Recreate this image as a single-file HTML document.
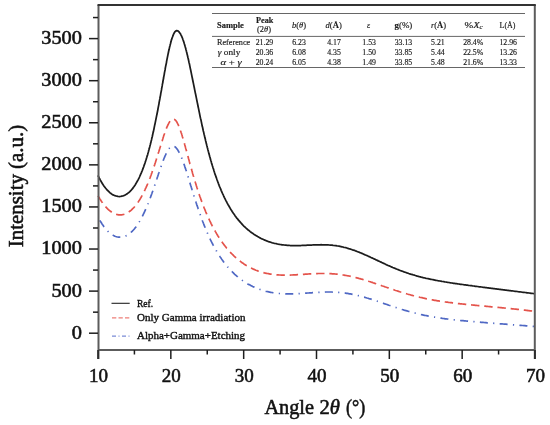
<!DOCTYPE html>
<html><head><meta charset="utf-8">
<style>
html,body{margin:0;padding:0;background:#fff;}
body{width:550px;height:425px;overflow:hidden;}
svg{display:block;}
.ser{font-family:"Liberation Serif",serif;}
</style></head>
<body>
<svg width="550" height="425" viewBox="0 0 550 425">
<rect width="550" height="425" fill="#fff"/>
<g fill="none" stroke-linejoin="round">
<path d="M98.0,217.0 98.5,217.9 98.9,218.7 99.4,219.6 99.9,220.5 100.4,221.3 101.0,222.2 101.5,223.0 102.0,223.9 102.6,224.7 103.2,225.5 103.7,226.4 104.3,227.2 105.0,227.9 105.6,228.7 106.2,229.5 106.9,230.2 107.6,230.9 108.3,231.7 109.0,232.3 109.8,233.0 110.6,233.6 111.4,234.2 112.2,234.8 113.1,235.3 114.0,235.7 114.9,236.2 115.8,236.5 116.8,236.8 117.7,237.0 118.7,237.2 119.7,237.2 120.7,237.2 121.7,237.1 122.7,237.0 123.7,236.7 124.6,236.4 125.6,236.0 126.5,235.6 127.3,235.1 128.2,234.6 129.0,234.0 129.8,233.4 130.6,232.8 131.3,232.1 132.1,231.4 132.7,230.7 133.4,230.0 134.1,229.2 134.7,228.4 135.3,227.7 136.0,226.9 136.5,226.0 137.1,225.2 137.7,224.4 138.2,223.6 138.8,222.7 139.3,221.9 139.8,221.0 140.3,220.1 140.8,219.3 141.3,218.4 141.7,217.5 142.2,216.6 142.7,215.7 143.1,214.8 143.5,213.9 144.0,213.0 144.4,212.1 144.8,211.2 145.2,210.3 145.6,209.4 146.0,208.5 146.4,207.5 146.8,206.6 147.2,205.7 147.6,204.8 148.0,203.8 148.3,202.9 148.7,202.0 149.1,201.0 149.4,200.1 149.8,199.2 150.1,198.2 150.5,197.3 150.8,196.4 151.2,195.4 151.5,194.5 151.9,193.5 152.2,192.6 152.5,191.7 152.9,190.7 153.2,189.8 153.5,188.8 153.8,187.9 154.2,186.9 154.5,186.0 154.8,185.0 155.1,184.1 155.4,183.1 155.8,182.2 156.1,181.2 156.4,180.3 156.7,179.3 157.0,178.4 157.3,177.4 157.7,176.5 158.0,175.5 158.3,174.6 158.6,173.6 158.9,172.7 159.2,171.7 159.6,170.8 159.9,169.8 160.2,168.9 160.5,167.9 160.9,167.0 161.2,166.0 161.5,165.1 161.9,164.2 162.2,163.2 162.6,162.3 162.9,161.3 163.3,160.4 163.6,159.5 164.0,158.5 164.4,157.6 164.8,156.7 165.1,155.8 165.6,154.9 166.0,154.0 166.4,153.1 166.9,152.2 167.4,151.3 167.9,150.4 168.4,149.6 169.0,148.8 169.6,148.0 170.3,147.3 171.1,146.7 172.0,146.3 173.0,146.2 174.0,146.4 174.9,146.8 175.7,147.4 176.4,148.2 177.0,148.9 177.6,149.7 178.1,150.6 178.6,151.5 179.1,152.3 179.6,153.2 180.0,154.1 180.4,155.0 180.8,156.0 181.2,156.9 181.6,157.8 182.0,158.7 182.3,159.7 182.7,160.6 183.0,161.5 183.4,162.5 183.7,163.4 184.1,164.4 184.4,165.3 184.7,166.3 185.0,167.2 185.3,168.2 185.7,169.1 186.0,170.1 186.3,171.0 186.6,172.0 186.9,172.9 187.2,173.9 187.5,174.8 187.8,175.8 188.1,176.7 188.4,177.7 188.7,178.7 189.0,179.6 189.3,180.6 189.6,181.5 189.8,182.5 190.1,183.4 190.4,184.4 190.7,185.4 191.0,186.3 191.3,187.3 191.6,188.2 191.9,189.2 192.2,190.1 192.5,191.1 192.8,192.1 193.1,193.0 193.4,194.0 193.7,194.9 194.0,195.9 194.3,196.8 194.6,197.8 194.9,198.7 195.2,199.7 195.5,200.6 195.8,201.6 196.1,202.6 196.4,203.5 196.7,204.5 197.0,205.4 197.4,206.4 197.7,207.3 198.0,208.3 198.3,209.2 198.6,210.2 199.0,211.1 199.3,212.0 199.6,213.0 199.9,213.9 200.3,214.9 200.6,215.8 201.0,216.8 201.3,217.7 201.6,218.6 202.0,219.6 202.3,220.5 202.7,221.5 203.1,222.4 203.4,223.3 203.8,224.3 204.1,225.2 204.5,226.1 204.9,227.0 205.3,228.0 205.6,228.9 206.0,229.8 206.4,230.7 206.8,231.7 207.2,232.6 207.6,233.5 208.0,234.4 208.4,235.3 208.8,236.2 209.3,237.2 209.7,238.1 210.1,239.0 210.5,239.9 211.0,240.8 211.4,241.7 211.9,242.6 212.3,243.5 212.8,244.3 213.2,245.2 213.7,246.1 214.2,247.0 214.7,247.9 215.2,248.8 215.7,249.6 216.2,250.5 216.7,251.4 217.2,252.2 217.7,253.1 218.2,253.9 218.7,254.8 219.3,255.6 219.8,256.4 220.4,257.3 221.0,258.1 221.5,258.9 222.1,259.8 222.7,260.6 223.3,261.4 223.9,262.2 224.5,263.0 225.1,263.8 225.7,264.6 226.3,265.3 227.0,266.1 227.6,266.9 228.3,267.6 228.9,268.4 229.6,269.1 230.3,269.9 231.0,270.6 231.7,271.3 232.4,272.0 233.1,272.7 233.8,273.4 234.5,274.1 235.3,274.8 236.0,275.4 236.8,276.1 237.6,276.7 238.3,277.4 239.1,278.0 239.9,278.6 240.7,279.2 241.5,279.8 242.3,280.4 243.1,281.0 244.0,281.5 244.8,282.1 245.6,282.6 246.5,283.1 247.4,283.7 248.2,284.2 249.1,284.6 250.0,285.1 250.9,285.6 251.8,286.0 252.7,286.5 253.6,286.9 254.5,287.3 255.4,287.7 256.3,288.1 257.2,288.5 258.2,288.8 259.1,289.2 260.1,289.5 261.0,289.8 262.0,290.1 262.9,290.4 263.9,290.7 264.8,291.0 265.8,291.3 266.8,291.5 267.8,291.7 268.7,291.9 269.7,292.1 270.7,292.3 271.7,292.5 272.7,292.7 273.7,292.8 274.6,293.0 275.6,293.1 276.6,293.2 277.6,293.4 278.6,293.5 279.6,293.5 280.6,293.6 281.6,293.7 282.6,293.8 283.6,293.8 284.6,293.8 285.6,293.9 286.6,293.9 287.6,293.9 288.6,293.9 289.6,293.9 290.6,293.9 291.6,293.9 292.6,293.9 293.6,293.9 294.6,293.8 295.6,293.8 296.6,293.7 297.6,293.7 298.6,293.6 299.6,293.6 300.6,293.5 301.6,293.5 302.6,293.4 303.6,293.3 304.6,293.3 305.6,293.2 306.6,293.1 307.6,293.0 308.6,293.0 309.6,292.9 310.6,292.8 311.6,292.8 312.6,292.7 313.6,292.6 314.6,292.5 315.6,292.5 316.6,292.4 317.6,292.4 318.6,292.3 319.6,292.3 320.6,292.2 321.6,292.2 322.6,292.1 323.6,292.1 324.6,292.1 325.6,292.0 326.6,292.0 327.6,292.0 328.6,292.0 329.6,292.0 330.6,292.0 331.6,292.0 332.6,292.1 333.6,292.1 334.6,292.1 335.6,292.2 336.6,292.3 337.6,292.3 338.6,292.4 339.6,292.5 340.6,292.6 341.6,292.7 342.6,292.8 343.6,292.9 344.6,293.0 345.6,293.1 346.6,293.3 347.6,293.4 348.5,293.6 349.5,293.8 350.5,293.9 351.5,294.1 352.5,294.3 353.5,294.5 354.4,294.7 355.4,294.9 356.4,295.2 357.4,295.4 358.3,295.6 359.3,295.8 360.3,296.1 361.3,296.3 362.2,296.6 363.2,296.9 364.2,297.1 365.1,297.4 366.1,297.7 367.0,298.0 368.0,298.3 369.0,298.6 369.9,298.8 370.9,299.1 371.8,299.4 372.8,299.8 373.7,300.1 374.7,300.4 375.6,300.7 376.6,301.0 377.5,301.3 378.5,301.6 379.4,302.0 380.4,302.3 381.3,302.6 382.3,302.9 383.2,303.2 384.2,303.6 385.1,303.9 386.1,304.2 387.0,304.5 388.0,304.9 388.9,305.2 389.9,305.5 390.8,305.8 391.8,306.1 392.7,306.5 393.6,306.8 394.6,307.1 395.6,307.4 396.5,307.7 397.5,308.0 398.4,308.3 399.4,308.6 400.3,308.9 401.3,309.2 402.2,309.5 403.2,309.8 404.1,310.1 405.1,310.4 406.1,310.7 407.0,310.9 408.0,311.2 409.0,311.5 409.9,311.8 410.9,312.0 411.9,312.3 412.8,312.5 413.8,312.8 414.8,313.0 415.7,313.3 416.7,313.5 417.7,313.8 418.7,314.0 419.6,314.2 420.6,314.4 421.6,314.7 422.6,314.9 423.5,315.1 424.5,315.3 425.5,315.5 426.5,315.7 427.5,315.9 428.4,316.1 429.4,316.3 430.4,316.4 431.4,316.6 432.4,316.8 433.4,317.0 434.4,317.1 435.3,317.3 436.3,317.5 437.3,317.6 438.3,317.8 439.3,317.9 440.3,318.1 441.3,318.2 442.3,318.4 443.3,318.5 444.3,318.6 445.2,318.8 446.2,318.9 447.2,319.0 448.2,319.1 449.2,319.3 450.2,319.4 451.2,319.5 452.2,319.6 453.2,319.7 454.2,319.8 455.2,319.9 456.2,320.0 457.2,320.2 458.2,320.3 459.2,320.4 460.2,320.5 461.2,320.6 462.2,320.6 463.2,320.7 464.2,320.8 465.1,320.9 466.1,321.0 467.1,321.1 468.1,321.2 469.1,321.3 470.1,321.4 471.1,321.5 472.1,321.5 473.1,321.6 474.1,321.7 475.1,321.8 476.1,321.9 477.1,322.0 478.1,322.0 479.1,322.1 480.1,322.2 481.1,322.3 482.1,322.4 483.1,322.4 484.1,322.5 485.1,322.6 486.1,322.7 487.1,322.8 488.1,322.8 489.1,322.9 490.1,323.0 491.1,323.1 492.1,323.1 493.1,323.2 494.1,323.3 495.1,323.4 496.1,323.4 497.1,323.5 498.1,323.6 499.1,323.7 500.1,323.8 501.1,323.8 502.1,323.9 503.1,324.0 504.1,324.1 505.1,324.1 506.1,324.2 507.1,324.3 508.1,324.4 509.1,324.4 510.1,324.5 511.1,324.6 512.0,324.7 513.0,324.8 514.0,324.8 515.0,324.9 516.0,325.0 517.0,325.1 518.0,325.1 519.0,325.2 520.0,325.3 521.0,325.4 522.0,325.5 523.0,325.5 524.0,325.6 525.0,325.7 526.0,325.8 527.0,325.9 528.0,326.0 529.0,326.0 530.0,326.1 531.0,326.2 532.0,326.3 533.0,326.4 534.0,326.4 535.0,326.5" stroke="#4f68c4" stroke-width="1.7" stroke-dasharray="8 5.325 1.2 5.325" stroke-dashoffset="16.1"/>
<path d="M98.0,195.7 98.5,196.6 99.0,197.4 99.5,198.3 100.0,199.1 100.6,200.0 101.1,200.8 101.7,201.7 102.3,202.5 102.8,203.3 103.4,204.1 104.1,204.9 104.7,205.7 105.3,206.4 106.0,207.2 106.7,207.9 107.4,208.6 108.1,209.3 108.8,210.0 109.6,210.6 110.4,211.2 111.2,211.8 112.0,212.4 112.9,212.9 113.8,213.3 114.7,213.8 115.6,214.1 116.6,214.4 117.6,214.6 118.6,214.8 119.5,214.9 120.5,214.9 121.5,214.8 122.5,214.7 123.5,214.5 124.5,214.2 125.4,213.8 126.3,213.4 127.2,213.0 128.1,212.5 128.9,211.9 129.7,211.3 130.5,210.7 131.3,210.1 132.0,209.4 132.7,208.7 133.4,208.0 134.1,207.3 134.8,206.5 135.4,205.7 136.0,205.0 136.6,204.2 137.2,203.3 137.8,202.5 138.4,201.7 138.9,200.9 139.5,200.0 140.0,199.2 140.5,198.3 141.0,197.5 141.5,196.6 142.0,195.7 142.4,194.8 142.9,193.9 143.4,193.1 143.8,192.2 144.3,191.3 144.7,190.4 145.1,189.5 145.5,188.5 146.0,187.6 146.4,186.7 146.8,185.8 147.2,184.9 147.6,184.0 147.9,183.0 148.3,182.1 148.7,181.2 149.1,180.3 149.4,179.3 149.8,178.4 150.2,177.5 150.5,176.5 150.9,175.6 151.2,174.7 151.5,173.7 151.9,172.8 152.2,171.8 152.5,170.9 152.9,169.9 153.2,169.0 153.5,168.0 153.8,167.1 154.2,166.2 154.5,165.2 154.8,164.3 155.1,163.3 155.4,162.4 155.7,161.4 156.0,160.4 156.3,159.5 156.6,158.5 156.9,157.6 157.2,156.6 157.5,155.7 157.8,154.7 158.1,153.8 158.4,152.8 158.7,151.9 159.0,150.9 159.3,149.9 159.6,149.0 159.9,148.0 160.2,147.1 160.5,146.1 160.8,145.2 161.1,144.2 161.4,143.3 161.7,142.3 162.0,141.3 162.3,140.4 162.6,139.4 162.9,138.5 163.2,137.5 163.5,136.6 163.8,135.6 164.1,134.7 164.5,133.7 164.8,132.8 165.1,131.9 165.5,130.9 165.8,130.0 166.2,129.0 166.5,128.1 166.9,127.2 167.3,126.3 167.7,125.4 168.2,124.5 168.6,123.6 169.1,122.7 169.6,121.8 170.2,121.0 170.9,120.3 171.6,119.6 172.5,119.1 173.5,119.1 174.4,119.4 175.2,120.0 175.9,120.7 176.5,121.5 177.0,122.4 177.5,123.3 177.9,124.2 178.4,125.1 178.7,126.0 179.1,126.9 179.5,127.8 179.8,128.8 180.2,129.7 180.5,130.7 180.8,131.6 181.1,132.6 181.5,133.5 181.8,134.5 182.1,135.4 182.3,136.4 182.6,137.3 182.9,138.3 183.2,139.3 183.5,140.2 183.8,141.2 184.0,142.1 184.3,143.1 184.6,144.1 184.8,145.0 185.1,146.0 185.4,147.0 185.6,147.9 185.9,148.9 186.2,149.8 186.4,150.8 186.7,151.8 187.0,152.7 187.2,153.7 187.5,154.7 187.7,155.6 188.0,156.6 188.3,157.6 188.5,158.5 188.8,159.5 189.1,160.5 189.3,161.4 189.6,162.4 189.8,163.4 190.1,164.3 190.4,165.3 190.6,166.3 190.9,167.2 191.2,168.2 191.5,169.1 191.7,170.1 192.0,171.1 192.3,172.0 192.5,173.0 192.8,174.0 193.1,174.9 193.4,175.9 193.7,176.8 193.9,177.8 194.2,178.8 194.5,179.7 194.8,180.7 195.1,181.6 195.4,182.6 195.7,183.5 196.0,184.5 196.3,185.5 196.6,186.4 196.9,187.4 197.2,188.3 197.5,189.3 197.8,190.2 198.1,191.2 198.4,192.1 198.7,193.1 199.1,194.0 199.4,195.0 199.7,195.9 200.0,196.8 200.4,197.8 200.7,198.7 201.0,199.7 201.4,200.6 201.7,201.6 202.1,202.5 202.4,203.4 202.8,204.4 203.1,205.3 203.5,206.2 203.9,207.2 204.2,208.1 204.6,209.0 205.0,209.9 205.4,210.9 205.7,211.8 206.1,212.7 206.5,213.6 206.9,214.6 207.3,215.5 207.7,216.4 208.1,217.3 208.6,218.2 209.0,219.1 209.4,220.0 209.8,220.9 210.3,221.8 210.7,222.7 211.1,223.6 211.6,224.5 212.0,225.4 212.5,226.3 213.0,227.2 213.4,228.1 213.9,229.0 214.4,229.8 214.9,230.7 215.4,231.6 215.9,232.4 216.4,233.3 216.9,234.2 217.4,235.0 217.9,235.9 218.5,236.7 219.0,237.6 219.5,238.4 220.1,239.2 220.6,240.1 221.2,240.9 221.8,241.7 222.4,242.5 222.9,243.3 223.5,244.1 224.1,244.9 224.8,245.7 225.4,246.5 226.0,247.3 226.6,248.1 227.3,248.9 227.9,249.6 228.6,250.4 229.2,251.1 229.9,251.9 230.6,252.6 231.3,253.3 232.0,254.0 232.7,254.7 233.4,255.4 234.1,256.1 234.9,256.8 235.6,257.5 236.3,258.1 237.1,258.8 237.9,259.4 238.6,260.1 239.4,260.7 240.2,261.3 241.0,261.9 241.8,262.5 242.6,263.1 243.5,263.6 244.3,264.2 245.1,264.7 246.0,265.3 246.9,265.8 247.7,266.3 248.6,266.8 249.5,267.2 250.4,267.7 251.3,268.1 252.2,268.6 253.1,269.0 254.0,269.4 254.9,269.8 255.8,270.2 256.8,270.5 257.7,270.9 258.6,271.2 259.6,271.5 260.5,271.8 261.5,272.1 262.5,272.4 263.4,272.6 264.4,272.9 265.4,273.1 266.4,273.3 267.3,273.5 268.3,273.7 269.3,273.9 270.3,274.1 271.3,274.2 272.3,274.3 273.3,274.5 274.3,274.6 275.2,274.7 276.2,274.8 277.2,274.9 278.2,274.9 279.2,275.0 280.2,275.0 281.2,275.1 282.2,275.1 283.2,275.1 284.2,275.1 285.2,275.1 286.2,275.1 287.2,275.1 288.2,275.1 289.2,275.1 290.2,275.1 291.2,275.0 292.2,275.0 293.2,274.9 294.2,274.9 295.2,274.8 296.2,274.8 297.2,274.7 298.2,274.7 299.2,274.6 300.2,274.5 301.2,274.5 302.2,274.4 303.2,274.3 304.2,274.3 305.2,274.2 306.2,274.1 307.2,274.1 308.2,274.0 309.2,273.9 310.2,273.9 311.2,273.8 312.2,273.8 313.2,273.7 314.2,273.7 315.2,273.6 316.2,273.6 317.2,273.6 318.2,273.5 319.2,273.5 320.2,273.5 321.2,273.5 322.2,273.5 323.2,273.5 324.2,273.5 325.2,273.5 326.2,273.5 327.2,273.5 328.2,273.6 329.2,273.6 330.2,273.6 331.2,273.7 332.2,273.8 333.2,273.8 334.2,273.9 335.2,274.0 336.2,274.1 337.2,274.2 338.2,274.3 339.2,274.4 340.2,274.5 341.2,274.7 342.1,274.8 343.1,275.0 344.1,275.1 345.1,275.3 346.1,275.5 347.1,275.7 348.1,275.8 349.0,276.0 350.0,276.2 351.0,276.5 352.0,276.7 352.9,276.9 353.9,277.1 354.9,277.4 355.9,277.6 356.8,277.8 357.8,278.1 358.8,278.4 359.7,278.6 360.7,278.9 361.7,279.2 362.6,279.4 363.6,279.7 364.5,280.0 365.5,280.3 366.4,280.6 367.4,280.9 368.4,281.2 369.3,281.5 370.3,281.8 371.2,282.1 372.2,282.4 373.1,282.8 374.1,283.1 375.0,283.4 376.0,283.7 376.9,284.0 377.9,284.4 378.8,284.7 379.7,285.0 380.7,285.3 381.6,285.7 382.6,286.0 383.5,286.3 384.5,286.6 385.4,287.0 386.4,287.3 387.3,287.6 388.3,287.9 389.2,288.2 390.2,288.6 391.1,288.9 392.0,289.2 393.0,289.5 393.9,289.8 394.9,290.2 395.8,290.5 396.8,290.8 397.8,291.1 398.7,291.4 399.7,291.7 400.6,292.0 401.6,292.3 402.5,292.6 403.5,292.9 404.4,293.2 405.4,293.4 406.4,293.7 407.3,294.0 408.3,294.3 409.2,294.5 410.2,294.8 411.2,295.1 412.1,295.3 413.1,295.6 414.1,295.8 415.0,296.1 416.0,296.3 417.0,296.6 418.0,296.8 418.9,297.0 419.9,297.3 420.9,297.5 421.9,297.7 422.8,297.9 423.8,298.2 424.8,298.4 425.8,298.6 426.7,298.8 427.7,299.0 428.7,299.2 429.7,299.4 430.7,299.5 431.6,299.7 432.6,299.9 433.6,300.1 434.6,300.3 435.6,300.4 436.6,300.6 437.6,300.8 438.5,300.9 439.5,301.1 440.5,301.2 441.5,301.4 442.5,301.5 443.5,301.7 444.5,301.8 445.5,302.0 446.5,302.1 447.5,302.2 448.4,302.4 449.4,302.5 450.4,302.6 451.4,302.7 452.4,302.9 453.4,303.0 454.4,303.1 455.4,303.2 456.4,303.3 457.4,303.5 458.4,303.6 459.4,303.7 460.4,303.8 461.4,303.9 462.4,304.0 463.4,304.1 464.3,304.2 465.3,304.3 466.3,304.4 467.3,304.5 468.3,304.6 469.3,304.7 470.3,304.8 471.3,304.9 472.3,305.0 473.3,305.1 474.3,305.2 475.3,305.3 476.3,305.4 477.3,305.5 478.3,305.6 479.3,305.7 480.3,305.7 481.3,305.8 482.3,305.9 483.3,306.0 484.3,306.1 485.3,306.2 486.3,306.3 487.2,306.4 488.2,306.5 489.2,306.6 490.2,306.7 491.2,306.8 492.2,306.9 493.2,306.9 494.2,307.0 495.2,307.1 496.2,307.2 497.2,307.3 498.2,307.4 499.2,307.5 500.2,307.6 501.2,307.7 502.2,307.8 503.2,307.9 504.2,308.0 505.2,308.1 506.2,308.2 507.2,308.3 508.2,308.4 509.2,308.5 510.1,308.6 511.1,308.7 512.1,308.8 513.1,308.9 514.1,309.0 515.1,309.1 516.1,309.2 517.1,309.3 518.1,309.4 519.1,309.5 520.1,309.7 521.1,309.8 522.1,309.9 523.1,310.0 524.1,310.1 525.1,310.2 526.1,310.3 527.1,310.4 528.0,310.6 529.0,310.7 530.0,310.8 531.0,310.9 532.0,311.0 533.0,311.1 534.0,311.3 535.0,311.4" stroke="#e4534b" stroke-width="1.7" stroke-dasharray="8.4 4.85" stroke-dashoffset="13.2"/>
<path d="M98.0,175.4 98.4,176.3 98.9,177.2 99.3,178.1 99.8,179.0 100.2,179.9 100.7,180.8 101.2,181.6 101.7,182.5 102.2,183.4 102.8,184.2 103.3,185.0 103.9,185.9 104.5,186.7 105.1,187.5 105.7,188.3 106.3,189.0 107.0,189.8 107.6,190.5 108.4,191.2 109.1,191.9 109.8,192.6 110.6,193.2 111.4,193.8 112.3,194.4 113.1,194.9 114.0,195.3 114.9,195.7 115.9,196.0 116.9,196.2 117.8,196.4 118.8,196.5 119.8,196.5 120.8,196.4 121.8,196.2 122.8,196.0 123.7,195.7 124.7,195.3 125.5,194.8 126.4,194.3 127.2,193.7 128.0,193.1 128.8,192.5 129.6,191.8 130.3,191.1 131.0,190.4 131.6,189.7 132.3,188.9 132.9,188.1 133.5,187.3 134.1,186.5 134.6,185.7 135.2,184.9 135.7,184.0 136.2,183.1 136.7,182.3 137.2,181.4 137.7,180.5 138.2,179.6 138.6,178.8 139.1,177.9 139.5,177.0 139.9,176.0 140.3,175.1 140.7,174.2 141.1,173.3 141.5,172.4 141.9,171.4 142.3,170.5 142.6,169.6 143.0,168.7 143.3,167.7 143.7,166.8 144.0,165.8 144.3,164.9 144.7,163.9 145.0,163.0 145.3,162.0 145.6,161.1 145.9,160.1 146.2,159.2 146.5,158.2 146.8,157.3 147.1,156.3 147.4,155.4 147.7,154.4 147.9,153.4 148.2,152.5 148.5,151.5 148.7,150.5 149.0,149.6 149.3,148.6 149.5,147.6 149.8,146.7 150.0,145.7 150.3,144.7 150.5,143.8 150.8,142.8 151.0,141.8 151.2,140.9 151.5,139.9 151.7,138.9 151.9,137.9 152.2,137.0 152.4,136.0 152.6,135.0 152.8,134.0 153.0,133.1 153.3,132.1 153.5,131.1 153.7,130.1 153.9,129.2 154.1,128.2 154.3,127.2 154.5,126.2 154.7,125.2 154.9,124.3 155.1,123.3 155.3,122.3 155.5,121.3 155.7,120.3 155.9,119.4 156.1,118.4 156.3,117.4 156.5,116.4 156.7,115.4 156.9,114.5 157.1,113.5 157.3,112.5 157.5,111.5 157.7,110.5 157.9,109.5 158.0,108.6 158.2,107.6 158.4,106.6 158.6,105.6 158.8,104.6 159.0,103.6 159.1,102.7 159.3,101.7 159.5,100.7 159.7,99.7 159.9,98.7 160.0,97.7 160.2,96.8 160.4,95.8 160.6,94.8 160.7,93.8 160.9,92.8 161.1,91.8 161.3,90.8 161.5,89.9 161.6,88.9 161.8,87.9 162.0,86.9 162.2,85.9 162.3,84.9 162.5,83.9 162.7,83.0 162.9,82.0 163.0,81.0 163.2,80.0 163.4,79.0 163.6,78.0 163.7,77.1 163.9,76.1 164.1,75.1 164.3,74.1 164.4,73.1 164.6,72.1 164.8,71.1 165.0,70.2 165.2,69.2 165.3,68.2 165.5,67.2 165.7,66.2 165.9,65.2 166.1,64.3 166.3,63.3 166.5,62.3 166.6,61.3 166.8,60.3 167.0,59.4 167.2,58.4 167.4,57.4 167.6,56.4 167.8,55.4 168.0,54.4 168.2,53.5 168.4,52.5 168.6,51.5 168.8,50.5 169.1,49.6 169.3,48.6 169.5,47.6 169.7,46.6 170.0,45.7 170.2,44.7 170.5,43.7 170.7,42.8 171.0,41.8 171.2,40.8 171.5,39.9 171.8,38.9 172.1,38.0 172.5,37.0 172.8,36.1 173.2,35.1 173.6,34.2 174.0,33.3 174.5,32.5 175.1,31.6 175.8,31.0 176.7,30.6 177.7,30.8 178.5,31.4 179.2,32.1 179.8,32.9 180.4,33.7 180.8,34.6 181.3,35.5 181.7,36.4 182.1,37.3 182.5,38.3 182.8,39.2 183.2,40.2 183.5,41.1 183.8,42.0 184.1,43.0 184.4,44.0 184.7,44.9 185.0,45.9 185.2,46.8 185.5,47.8 185.8,48.8 186.0,49.7 186.3,50.7 186.5,51.7 186.8,52.6 187.0,53.6 187.2,54.6 187.5,55.6 187.7,56.5 187.9,57.5 188.2,58.5 188.4,59.5 188.6,60.4 188.8,61.4 189.0,62.4 189.3,63.4 189.5,64.3 189.7,65.3 189.9,66.3 190.1,67.3 190.3,68.3 190.5,69.2 190.7,70.2 190.9,71.2 191.1,72.2 191.3,73.1 191.5,74.1 191.7,75.1 191.9,76.1 192.1,77.1 192.3,78.0 192.5,79.0 192.7,80.0 192.9,81.0 193.1,82.0 193.3,82.9 193.5,83.9 193.7,84.9 193.9,85.9 194.1,86.9 194.3,87.8 194.5,88.8 194.7,89.8 194.9,90.8 195.1,91.8 195.3,92.8 195.5,93.7 195.7,94.7 195.9,95.7 196.1,96.7 196.3,97.7 196.5,98.6 196.7,99.6 196.9,100.6 197.1,101.6 197.3,102.6 197.5,103.5 197.7,104.5 197.9,105.5 198.1,106.5 198.3,107.5 198.5,108.4 198.7,109.4 198.9,110.4 199.1,111.4 199.3,112.4 199.5,113.3 199.7,114.3 199.9,115.3 200.1,116.3 200.3,117.3 200.5,118.2 200.8,119.2 201.0,120.2 201.2,121.2 201.4,122.1 201.6,123.1 201.8,124.1 202.0,125.1 202.2,126.1 202.5,127.0 202.7,128.0 202.9,129.0 203.1,130.0 203.3,130.9 203.6,131.9 203.8,132.9 204.0,133.9 204.2,134.8 204.5,135.8 204.7,136.8 204.9,137.8 205.2,138.7 205.4,139.7 205.6,140.7 205.9,141.6 206.1,142.6 206.3,143.6 206.6,144.6 206.8,145.5 207.1,146.5 207.3,147.5 207.6,148.4 207.8,149.4 208.1,150.4 208.3,151.3 208.6,152.3 208.8,153.3 209.1,154.2 209.4,155.2 209.6,156.2 209.9,157.1 210.2,158.1 210.4,159.1 210.7,160.0 211.0,161.0 211.3,161.9 211.5,162.9 211.8,163.9 212.1,164.8 212.4,165.8 212.7,166.7 213.0,167.7 213.3,168.6 213.6,169.6 213.9,170.6 214.2,171.5 214.5,172.5 214.8,173.4 215.1,174.4 215.5,175.3 215.8,176.2 216.1,177.2 216.5,178.1 216.8,179.1 217.1,180.0 217.5,181.0 217.8,181.9 218.2,182.8 218.5,183.8 218.9,184.7 219.2,185.6 219.6,186.6 220.0,187.5 220.4,188.4 220.8,189.3 221.1,190.3 221.5,191.2 221.9,192.1 222.3,193.0 222.7,193.9 223.2,194.8 223.6,195.8 224.0,196.7 224.4,197.6 224.9,198.5 225.3,199.4 225.8,200.3 226.2,201.1 226.7,202.0 227.1,202.9 227.6,203.8 228.1,204.7 228.6,205.5 229.1,206.4 229.6,207.3 230.1,208.1 230.6,209.0 231.1,209.8 231.7,210.7 232.2,211.5 232.8,212.4 233.3,213.2 233.9,214.0 234.5,214.8 235.0,215.7 235.6,216.5 236.2,217.3 236.8,218.1 237.5,218.8 238.1,219.6 238.7,220.4 239.4,221.2 240.0,221.9 240.7,222.7 241.4,223.4 242.0,224.1 242.7,224.9 243.4,225.6 244.1,226.3 244.9,227.0 245.6,227.7 246.3,228.3 247.1,229.0 247.8,229.7 248.6,230.3 249.4,230.9 250.2,231.6 251.0,232.2 251.8,232.8 252.6,233.3 253.4,233.9 254.2,234.5 255.1,235.0 255.9,235.6 256.8,236.1 257.6,236.6 258.5,237.1 259.4,237.6 260.3,238.0 261.1,238.5 262.0,238.9 263.0,239.3 263.9,239.7 264.8,240.1 265.7,240.5 266.6,240.9 267.6,241.2 268.5,241.6 269.5,241.9 270.4,242.2 271.4,242.5 272.3,242.8 273.3,243.0 274.3,243.3 275.2,243.5 276.2,243.7 277.2,244.0 278.2,244.2 279.2,244.3 280.1,244.5 281.1,244.6 282.1,244.8 283.1,244.9 284.1,245.0 285.1,245.1 286.1,245.2 287.1,245.3 288.1,245.4 289.1,245.4 290.1,245.5 291.1,245.5 292.1,245.6 293.1,245.6 294.1,245.6 295.1,245.6 296.1,245.6 297.1,245.6 298.1,245.6 299.1,245.5 300.1,245.5 301.1,245.5 302.1,245.4 303.1,245.4 304.1,245.4 305.1,245.3 306.1,245.3 307.1,245.2 308.1,245.2 309.1,245.1 310.1,245.1 311.1,245.0 312.1,245.0 313.1,244.9 314.1,244.9 315.1,244.9 316.1,244.8 317.1,244.8 318.1,244.8 319.1,244.8 320.1,244.8 321.1,244.7 322.1,244.8 323.1,244.8 324.1,244.8 325.1,244.8 326.1,244.8 327.1,244.9 328.1,244.9 329.1,245.0 330.1,245.1 331.1,245.2 332.1,245.2 333.1,245.4 334.1,245.5 335.1,245.6 336.0,245.7 337.0,245.9 338.0,246.0 339.0,246.2 340.0,246.4 341.0,246.6 342.0,246.8 342.9,247.0 343.9,247.3 344.9,247.5 345.8,247.7 346.8,248.0 347.8,248.3 348.7,248.6 349.7,248.9 350.6,249.2 351.6,249.5 352.5,249.8 353.5,250.1 354.4,250.4 355.4,250.8 356.3,251.1 357.2,251.5 358.2,251.9 359.1,252.2 360.0,252.6 361.0,253.0 361.9,253.4 362.8,253.8 363.7,254.2 364.6,254.6 365.5,255.0 366.5,255.4 367.4,255.8 368.3,256.2 369.2,256.6 370.1,257.0 371.0,257.5 371.9,257.9 372.8,258.3 373.7,258.7 374.6,259.1 375.5,259.6 376.4,260.0 377.3,260.4 378.3,260.9 379.2,261.3 380.1,261.7 381.0,262.1 381.9,262.6 382.8,263.0 383.7,263.4 384.6,263.8 385.5,264.2 386.4,264.7 387.3,265.1 388.2,265.5 389.2,265.9 390.1,266.3 391.0,266.7 391.9,267.1 392.8,267.5 393.8,267.9 394.7,268.2 395.6,268.6 396.5,269.0 397.5,269.4 398.4,269.7 399.3,270.1 400.3,270.5 401.2,270.8 402.1,271.2 403.1,271.5 404.0,271.9 404.9,272.2 405.9,272.5 406.8,272.8 407.8,273.2 408.7,273.5 409.7,273.8 410.6,274.1 411.6,274.4 412.6,274.7 413.5,275.0 414.5,275.2 415.4,275.5 416.4,275.8 417.4,276.1 418.3,276.3 419.3,276.6 420.3,276.8 421.2,277.1 422.2,277.3 423.2,277.6 424.1,277.8 425.1,278.0 426.1,278.3 427.1,278.5 428.0,278.7 429.0,278.9 430.0,279.1 431.0,279.3 432.0,279.5 432.9,279.7 433.9,279.9 434.9,280.1 435.9,280.3 436.9,280.5 437.8,280.7 438.8,280.8 439.8,281.0 440.8,281.2 441.8,281.4 442.8,281.5 443.8,281.7 444.7,281.9 445.7,282.0 446.7,282.2 447.7,282.3 448.7,282.5 449.7,282.7 450.7,282.8 451.7,283.0 452.7,283.1 453.6,283.3 454.6,283.4 455.6,283.6 456.6,283.7 457.6,283.8 458.6,284.0 459.6,284.1 460.6,284.3 461.6,284.4 462.6,284.5 463.5,284.7 464.5,284.8 465.5,284.9 466.5,285.1 467.5,285.2 468.5,285.4 469.5,285.5 470.5,285.6 471.5,285.7 472.5,285.9 473.5,286.0 474.5,286.1 475.4,286.3 476.4,286.4 477.4,286.5 478.4,286.7 479.4,286.8 480.4,286.9 481.4,287.0 482.4,287.2 483.4,287.3 484.4,287.4 485.4,287.6 486.4,287.7 487.4,287.8 488.3,287.9 489.3,288.1 490.3,288.2 491.3,288.3 492.3,288.4 493.3,288.6 494.3,288.7 495.3,288.8 496.3,288.9 497.3,289.1 498.3,289.2 499.3,289.3 500.3,289.4 501.2,289.6 502.2,289.7 503.2,289.8 504.2,289.9 505.2,290.1 506.2,290.2 507.2,290.3 508.2,290.4 509.2,290.6 510.2,290.7 511.2,290.8 512.2,290.9 513.2,291.0 514.2,291.2 515.1,291.3 516.1,291.4 517.1,291.5 518.1,291.7 519.1,291.8 520.1,291.9 521.1,292.0 522.1,292.2 523.1,292.3 524.1,292.4 525.1,292.5 526.1,292.6 527.1,292.8 528.0,292.9 529.0,293.0 530.0,293.1 531.0,293.3 532.0,293.4 533.0,293.5 534.0,293.6 535.0,293.7" stroke="#1c1c1c" stroke-width="1.75"/>
</g>
<g stroke="#666" stroke-width="1">
<line x1="212" y1="13.5" x2="525" y2="13.5"/>
<line x1="212" y1="36.4" x2="525" y2="36.4"/>
<line x1="212" y1="67.5" x2="525" y2="67.5"/>
</g>
<g class="ser" font-size="7.8" fill="#1a1a1a" stroke="#1a1a1a" stroke-width="0.15">
<text x="217" y="27.9" font-weight="bold" textLength="26.9" lengthAdjust="spacingAndGlyphs">Sample</text>
<text x="256" y="22.5" font-weight="bold" textLength="17.4" lengthAdjust="spacingAndGlyphs">Peak</text>
<text x="257" y="32" textLength="14" lengthAdjust="spacingAndGlyphs">(2<tspan font-style="italic">θ</tspan>)</text>
<text x="291.9" y="27.6" textLength="14.1" lengthAdjust="spacingAndGlyphs"><tspan font-style="italic">b</tspan>(<tspan font-style="italic">θ</tspan>)</text>
<text x="325.6" y="27.6" textLength="16.2" lengthAdjust="spacingAndGlyphs"><tspan font-style="italic">d</tspan>(<tspan font-weight="bold">Å</tspan>)</text>
<text x="367" y="27.6" font-style="italic">ε</text>
<text x="394.5" y="27.6" textLength="17.8" lengthAdjust="spacingAndGlyphs"><tspan font-weight="bold">g</tspan>(%)</text>
<text x="431" y="27.6" textLength="15" lengthAdjust="spacingAndGlyphs"><tspan font-style="italic">r</tspan>(<tspan font-weight="bold">Å</tspan>)</text>
<text x="464.5" y="27.6" textLength="18.2" lengthAdjust="spacingAndGlyphs">%<tspan font-style="italic">X</tspan><tspan font-style="italic" font-size="5.2" dy="1.4">c</tspan></text>
<text x="499.5" y="27.6" textLength="16" lengthAdjust="spacingAndGlyphs">L(Å)</text>

<text x="217" y="45.4" textLength="33.2" lengthAdjust="spacingAndGlyphs">Reference</text>
<text x="217.8" y="55" textLength="22.5" lengthAdjust="spacingAndGlyphs"><tspan font-style="italic">γ</tspan> only</text>
<text x="220.6" y="64.8" textLength="21.2" lengthAdjust="spacingAndGlyphs"><tspan font-style="italic">α</tspan> + <tspan font-style="italic">γ</tspan></text>

<g text-anchor="middle">
<text x="264.5" y="45.4">21.29</text><text x="264.5" y="55">20.36</text><text x="264.5" y="64.8">20.24</text>
<text x="299" y="45.4">6.23</text><text x="299" y="55">6.08</text><text x="299" y="64.8">6.05</text>
<text x="334" y="45.4">4.17</text><text x="334" y="55">4.35</text><text x="334" y="64.8">4.38</text>
<text x="369.2" y="45.4">1.53</text><text x="369.2" y="55">1.50</text><text x="369.2" y="64.8">1.49</text>
<text x="403.5" y="45.4">33.13</text><text x="403.5" y="55">33.85</text><text x="403.5" y="64.8">33.85</text>
<text x="437.9" y="45.4">5.21</text><text x="437.9" y="55">5.44</text><text x="437.9" y="64.8">5.48</text>
<text x="473.2" y="45.4">28.4%</text><text x="473.2" y="55">22.5%</text><text x="473.2" y="64.8">21.6%</text>
<text x="508.2" y="45.4">12.96</text><text x="508.2" y="55">13.26</text><text x="508.2" y="64.8">13.33</text>
</g>
</g>
<g fill="none" stroke-width="1.2">
<line x1="111.5" y1="303.3" x2="129.7" y2="303.3" stroke="#222" stroke-width="1.1"/>
<line x1="112" y1="317.9" x2="129.8" y2="317.9" stroke="#ee7f78" stroke-dasharray="4.3 2.2"/>
<line x1="112" y1="336.1" x2="130" y2="336.1" stroke="#7a8bd6" stroke-dasharray="4 2.5 1 2.5"/>
</g>
<g class="ser" font-size="11.4" fill="#111" stroke="#111" stroke-width="0.4">
<text x="136.9" y="306.6" textLength="16.2" lengthAdjust="spacingAndGlyphs">Ref.</text>
<text x="137" y="321.1" textLength="108.5" lengthAdjust="spacingAndGlyphs">Only Gamma irradiation</text>
<text x="137" y="339.3" textLength="108" lengthAdjust="spacingAndGlyphs">Alpha+Gamma+Etching</text>
</g>
<g stroke="#5c5c5c" stroke-width="2" fill="none">
<line x1="98.5" y1="5" x2="98.5" y2="359"/>
<line x1="534.8" y1="5" x2="534.8" y2="359"/>
<line x1="98.5" y1="350.1" x2="534.8" y2="350.1"/>
</g>
<line x1="97.5" y1="5" x2="535.8" y2="5" stroke="#333" stroke-width="2"/>
<g stroke="#1e1e1e" stroke-width="1.5">
<line x1="89.00" y1="333.20" x2="98.00" y2="333.20"/>
<line x1="93.00" y1="312.16" x2="98.00" y2="312.16"/>
<line x1="89.00" y1="291.11" x2="98.00" y2="291.11"/>
<line x1="93.00" y1="270.07" x2="98.00" y2="270.07"/>
<line x1="89.00" y1="249.03" x2="98.00" y2="249.03"/>
<line x1="93.00" y1="227.99" x2="98.00" y2="227.99"/>
<line x1="89.00" y1="206.94" x2="98.00" y2="206.94"/>
<line x1="93.00" y1="185.90" x2="98.00" y2="185.90"/>
<line x1="89.00" y1="164.86" x2="98.00" y2="164.86"/>
<line x1="93.00" y1="143.81" x2="98.00" y2="143.81"/>
<line x1="89.00" y1="122.77" x2="98.00" y2="122.77"/>
<line x1="93.00" y1="101.73" x2="98.00" y2="101.73"/>
<line x1="89.00" y1="80.69" x2="98.00" y2="80.69"/>
<line x1="93.00" y1="59.64" x2="98.00" y2="59.64"/>
<line x1="89.00" y1="38.60" x2="98.00" y2="38.60"/>
<line x1="93.00" y1="17.56" x2="98.00" y2="17.56"/>
<line x1="98.00" y1="350" x2="98.00" y2="359.00"/>
<line x1="134.42" y1="350" x2="134.42" y2="354.50"/>
<line x1="170.83" y1="350" x2="170.83" y2="359.00"/>
<line x1="207.25" y1="350" x2="207.25" y2="354.50"/>
<line x1="243.67" y1="350" x2="243.67" y2="359.00"/>
<line x1="280.08" y1="350" x2="280.08" y2="354.50"/>
<line x1="316.50" y1="350" x2="316.50" y2="359.00"/>
<line x1="352.92" y1="350" x2="352.92" y2="354.50"/>
<line x1="389.33" y1="350" x2="389.33" y2="359.00"/>
<line x1="425.75" y1="350" x2="425.75" y2="354.50"/>
<line x1="462.17" y1="350" x2="462.17" y2="359.00"/>
<line x1="498.58" y1="350" x2="498.58" y2="354.50"/>
<line x1="535.00" y1="350" x2="535.00" y2="359.00"/>
</g>
<g class="ser" font-size="18.5" fill="#111" stroke="#111" stroke-width="0.55">
<text x="81.9" y="338.60" text-anchor="end" textLength="10.2" lengthAdjust="spacingAndGlyphs">0</text>
<text x="81.9" y="296.51" text-anchor="end" textLength="30.5" lengthAdjust="spacingAndGlyphs">500</text>
<text x="81.9" y="254.43" text-anchor="end" textLength="40.6" lengthAdjust="spacingAndGlyphs">1000</text>
<text x="81.9" y="212.34" text-anchor="end" textLength="40.6" lengthAdjust="spacingAndGlyphs">1500</text>
<text x="81.9" y="170.26" text-anchor="end" textLength="40.6" lengthAdjust="spacingAndGlyphs">2000</text>
<text x="81.9" y="128.17" text-anchor="end" textLength="40.6" lengthAdjust="spacingAndGlyphs">2500</text>
<text x="81.9" y="86.09" text-anchor="end" textLength="40.6" lengthAdjust="spacingAndGlyphs">3000</text>
<text x="81.9" y="44.00" text-anchor="end" textLength="40.6" lengthAdjust="spacingAndGlyphs">3500</text>
<text x="98.50" y="382.4" text-anchor="middle" textLength="19" lengthAdjust="spacingAndGlyphs">10</text>
<text x="171.33" y="382.4" text-anchor="middle" textLength="19" lengthAdjust="spacingAndGlyphs">20</text>
<text x="244.17" y="382.4" text-anchor="middle" textLength="19" lengthAdjust="spacingAndGlyphs">30</text>
<text x="317.00" y="382.4" text-anchor="middle" textLength="19" lengthAdjust="spacingAndGlyphs">40</text>
<text x="389.83" y="382.4" text-anchor="middle" textLength="19" lengthAdjust="spacingAndGlyphs">50</text>
<text x="462.67" y="382.4" text-anchor="middle" textLength="19" lengthAdjust="spacingAndGlyphs">60</text>
<text x="535.50" y="382.4" text-anchor="middle" textLength="19" lengthAdjust="spacingAndGlyphs">70</text>
</g>
<g class="ser" font-size="20.6" fill="#111" stroke="#111" stroke-width="0.55">
<text x="264.4" y="413.5" textLength="49.6" lengthAdjust="spacingAndGlyphs">Angle</text>
<text x="319.4" y="413.5">2<tspan font-style="italic">θ</tspan></text>
<text x="346" y="413.5" textLength="19.2" lengthAdjust="spacingAndGlyphs">(°)</text>
<text transform="translate(23,247.2) rotate(-90)" textLength="122.4" lengthAdjust="spacingAndGlyphs">Intensity (a.u.)</text>
</g>
</svg>
</body></html>
